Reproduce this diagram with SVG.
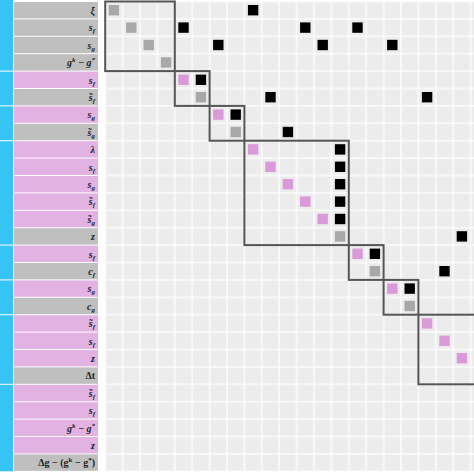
<svg xmlns="http://www.w3.org/2000/svg" width="474" height="474" viewBox="0 0 474 474">
<style>
.lg{fill:#bfbfbf}
.lp{fill:#e2b2e2}
.t{font-family:"Liberation Serif","DejaVu Serif",serif;font-style:italic;font-weight:bold;font-size:10px;fill:#222;text-anchor:end}
.s{font-size:7px}
.mg{fill:#a8a8a8}
.mp{fill:#da9ada}
.mk{fill:#000}
.box{fill:none;stroke:#555;stroke-width:2}
</style>
<defs>
<pattern id="cell" x="105.2" y="1.5" width="17.4" height="17.4" patternUnits="userSpaceOnUse">
<rect x="0.6" y="0.6" width="16.2" height="16.2" fill="#ececec"/>
</pattern>
</defs>
<rect width="474" height="474" fill="#fff"/>
<g id="strip">
<rect x="0" y="0" width="13" height="471.3" fill="#35c4f4"/>
<g fill="#fff">
<rect x="0" y="70.6" width="13" height="1"/>
<rect x="0" y="105.4" width="13" height="1"/>
<rect x="0" y="140.2" width="13" height="1"/>
<rect x="0" y="244.6" width="13" height="1"/>
<rect x="0" y="279.4" width="13" height="1"/>
<rect x="0" y="314.2" width="13" height="1"/>
<rect x="0" y="383.8" width="13" height="1"/>
</g>
</g>
<g id="labels">
<g id="r0"><rect class="lg" x="14" y="2" width="84" height="16.4"/><text class="t" x="95" y="14">ξ</text></g>
<g id="r1"><rect class="lg" x="14" y="19.4" width="84" height="16.4"/><text class="t" x="95" y="31.4">s<tspan class="s" dy="2">f</tspan></text></g>
<g id="r2"><rect class="lg" x="14" y="36.8" width="84" height="16.4"/><text class="t" x="95" y="48.8">s<tspan class="s" dy="2">g</tspan></text></g>
<g id="r3"><rect class="lg" x="14" y="54.2" width="84" height="16.4"/><text class="t" x="95" y="66.2">g<tspan class="s" dy="-4">k</tspan><tspan dy="4"> − g</tspan><tspan class="s" dy="-4">*</tspan></text></g>
<g id="r4"><rect class="lp" x="14" y="71.6" width="84" height="16.4"/><text class="t" x="95" y="83.6">s<tspan class="s" dy="2">f</tspan></text></g>
<g id="r5"><rect class="lg" x="14" y="89" width="84" height="16.4"/><text class="t" x="95" y="101">s̃<tspan class="s" dy="2">f</tspan></text></g>
<g id="r6"><rect class="lp" x="14" y="106.4" width="84" height="16.4"/><text class="t" x="95" y="118.4">s<tspan class="s" dy="2">g</tspan></text></g>
<g id="r7"><rect class="lg" x="14" y="123.8" width="84" height="16.4"/><text class="t" x="95" y="135.8">s̃<tspan class="s" dy="2">g</tspan></text></g>
<g id="r8"><rect class="lp" x="14" y="141.2" width="84" height="16.4"/><text class="t" x="95" y="153.2">λ</text></g>
<g id="r9"><rect class="lp" x="14" y="158.6" width="84" height="16.4"/><text class="t" x="95" y="170.6">s<tspan class="s" dy="2">f</tspan></text></g>
<g id="r10"><rect class="lp" x="14" y="176" width="84" height="16.4"/><text class="t" x="95" y="188">s<tspan class="s" dy="2">g</tspan></text></g>
<g id="r11"><rect class="lp" x="14" y="193.4" width="84" height="16.4"/><text class="t" x="95" y="205.4">s̃<tspan class="s" dy="2">f</tspan></text></g>
<g id="r12"><rect class="lp" x="14" y="210.8" width="84" height="16.4"/><text class="t" x="95" y="222.8">s̃<tspan class="s" dy="2">g</tspan></text></g>
<g id="r13"><rect class="lg" x="14" y="228.2" width="84" height="16.4"/><text class="t" x="95" y="240.2">z</text></g>
<g id="r14"><rect class="lp" x="14" y="245.6" width="84" height="16.4"/><text class="t" x="95" y="257.6">s<tspan class="s" dy="2">f</tspan></text></g>
<g id="r15"><rect class="lg" x="14" y="263" width="84" height="16.4"/><text class="t" x="95" y="275">c<tspan class="s" dy="2">f</tspan></text></g>
<g id="r16"><rect class="lp" x="14" y="280.4" width="84" height="16.4"/><text class="t" x="95" y="292.4">s<tspan class="s" dy="2">g</tspan></text></g>
<g id="r17"><rect class="lg" x="14" y="297.8" width="84" height="16.4"/><text class="t" x="95" y="309.8">c<tspan class="s" dy="2">g</tspan></text></g>
<g id="r18"><rect class="lp" x="14" y="315.2" width="84" height="16.4"/><text class="t" x="95" y="327.2">s̃<tspan class="s" dy="2">f</tspan></text></g>
<g id="r19"><rect class="lp" x="14" y="332.6" width="84" height="16.4"/><text class="t" x="95" y="344.6">s<tspan class="s" dy="2">f</tspan></text></g>
<g id="r20"><rect class="lp" x="14" y="350" width="84" height="16.4"/><text class="t" x="95" y="362">z</text></g>
<g id="r21"><rect class="lg" x="14" y="367.4" width="84" height="16.4"/><text class="t" x="95" y="379.4" style="font-style:normal">Δt</text></g>
<g id="r22"><rect class="lp" x="14" y="384.8" width="84" height="16.4"/><text class="t" x="95" y="396.8">s̃<tspan class="s" dy="2">f</tspan></text></g>
<g id="r23"><rect class="lp" x="14" y="402.2" width="84" height="16.4"/><text class="t" x="95" y="414.2">s<tspan class="s" dy="2">f</tspan></text></g>
<g id="r24"><rect class="lp" x="14" y="419.6" width="84" height="16.4"/><text class="t" x="95" y="431.6">g<tspan class="s" dy="-4">k</tspan><tspan dy="4"> − g</tspan><tspan class="s" dy="-4">*</tspan></text></g>
<g id="r25"><rect class="lp" x="14" y="437" width="84" height="16.4"/><text class="t" x="95" y="449">z</text></g>
<g id="r26"><rect class="lg" x="14" y="454.4" width="84" height="16.4"/><text class="t" x="95" y="466.4" style="font-style:normal">Δg − (g<tspan class="s" dy="-4">k</tspan><tspan dy="4"> − g</tspan><tspan class="s" dy="-4">*</tspan><tspan dy="4">)</tspan></text></g>
</g>
<g id="grid">
<rect x="105.2" y="1.5" width="368.8" height="469.8" fill="url(#cell)"/>
</g>
<g id="marks">
<g class="mg">
<rect x="108.7" y="5" width="10.4" height="10.4"/>
<rect x="126.1" y="22.4" width="10.4" height="10.4"/>
<rect x="143.5" y="39.8" width="10.4" height="10.4"/>
<rect x="160.9" y="57.2" width="10.4" height="10.4"/>
<rect x="195.7" y="92" width="10.4" height="10.4"/>
<rect x="230.5" y="126.8" width="10.4" height="10.4"/>
<rect x="334.9" y="231.2" width="10.4" height="10.4"/>
<rect x="369.7" y="266" width="10.4" height="10.4"/>
<rect x="404.5" y="300.8" width="10.4" height="10.4"/>
</g>
<g class="mp">
<rect x="178.3" y="74.6" width="10.4" height="10.4"/>
<rect x="213.1" y="109.4" width="10.4" height="10.4"/>
<rect x="247.9" y="144.2" width="10.4" height="10.4"/>
<rect x="265.3" y="161.6" width="10.4" height="10.4"/>
<rect x="282.7" y="179" width="10.4" height="10.4"/>
<rect x="300.1" y="196.4" width="10.4" height="10.4"/>
<rect x="317.5" y="213.8" width="10.4" height="10.4"/>
<rect x="352.3" y="248.6" width="10.4" height="10.4"/>
<rect x="387.1" y="283.4" width="10.4" height="10.4"/>
<rect x="421.9" y="318.2" width="10.4" height="10.4"/>
<rect x="439.3" y="335.6" width="10.4" height="10.4"/>
<rect x="456.7" y="353" width="10.4" height="10.4"/>
</g>
<g class="mk">
<rect x="247.9" y="5" width="10.4" height="10.4"/>
<rect x="178.3" y="22.4" width="10.4" height="10.4"/>
<rect x="300.1" y="22.4" width="10.4" height="10.4"/>
<rect x="352.3" y="22.4" width="10.4" height="10.4"/>
<rect x="213.1" y="39.8" width="10.4" height="10.4"/>
<rect x="317.5" y="39.8" width="10.4" height="10.4"/>
<rect x="387.1" y="39.8" width="10.4" height="10.4"/>
<rect x="195.7" y="74.6" width="10.4" height="10.4"/>
<rect x="265.3" y="92" width="10.4" height="10.4"/>
<rect x="421.9" y="92" width="10.4" height="10.4"/>
<rect x="230.5" y="109.4" width="10.4" height="10.4"/>
<rect x="282.7" y="126.8" width="10.4" height="10.4"/>
<rect x="334.9" y="144.2" width="10.4" height="10.4"/>
<rect x="334.9" y="161.6" width="10.4" height="10.4"/>
<rect x="334.9" y="179" width="10.4" height="10.4"/>
<rect x="334.9" y="196.4" width="10.4" height="10.4"/>
<rect x="334.9" y="213.8" width="10.4" height="10.4"/>
<rect x="456.7" y="231.2" width="10.4" height="10.4"/>
<rect x="369.7" y="248.6" width="10.4" height="10.4"/>
<rect x="439.3" y="266" width="10.4" height="10.4"/>
<rect x="404.5" y="283.4" width="10.4" height="10.4"/>
</g>
</g>
<g id="connectors">
<rect class="box" x="105.2" y="1.5" width="69.6" height="69.6"/>
<rect class="box" x="174.8" y="71.1" width="34.8" height="34.8"/>
<rect class="box" x="209.6" y="105.9" width="34.8" height="34.8"/>
<rect class="box" x="244.4" y="140.7" width="104.4" height="104.4"/>
<rect class="box" x="348.8" y="245.1" width="34.8" height="34.8"/>
<rect class="box" x="383.6" y="279.9" width="34.8" height="34.8"/>
<rect class="box" x="418.4" y="314.7" width="69.6" height="69.6"/>
</g>
</svg>
